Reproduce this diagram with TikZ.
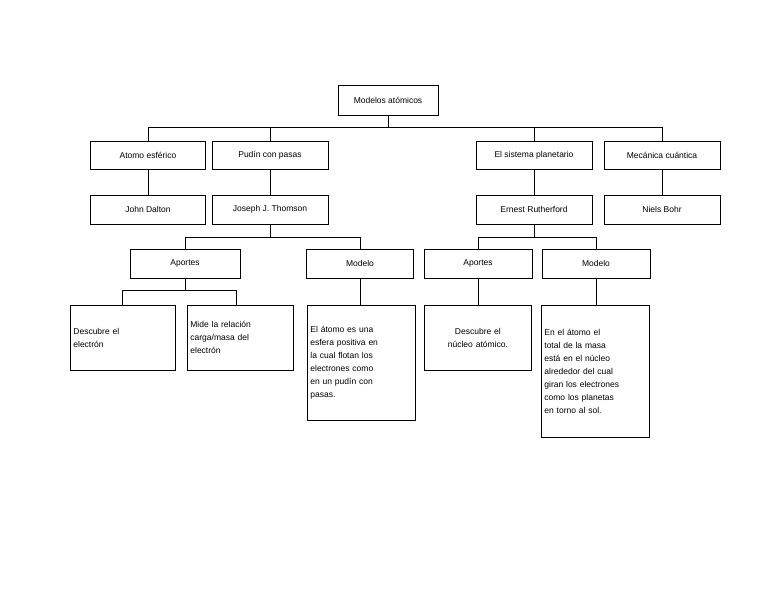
\documentclass[tikz,border=0pt]{standalone}
\usepackage{fontspec}
\setmainfont{Liberation Sans}
\usepackage{tikz}
\usetikzlibrary{positioning}
\tikzset{
  caja/.style={draw, line width=0.8pt, inner sep=2pt, font=\fontsize{8.5}{13}\selectfont},
  texto/.style={caja, anchor=north west, align=left, text width=#1, inner sep=3pt},
  linea/.style={line width=0.6pt}
}
\begin{document}
\begin{tikzpicture}[x=1pt,y=-1pt]
    \useasboundingbox (0,0) rectangle (768,594);
    % raiz
    \node [caja, minimum width=100, minimum height=30] (raiz) at (388,100) {Modelos atómicos};
    % segundo nivel
    \node [caja, minimum width=115, minimum height=28] (dalton) at (148,155) {Atomo esférico};
    \node [caja, minimum width=116, minimum height=28] (thomson) at (270,155) {Pudín con pasas};
    \node [caja, minimum width=116, minimum height=28] (ruther) at (534,155) {El sistema planetario};
    \node [caja, minimum width=116, minimum height=28] (bohr) at (662,155) {Mecánica cuántica};
    % tercer nivel
    \node [caja, minimum width=115, minimum height=29] (jd) at (148,209.5) {John Dalton};
    \node [caja, minimum width=116, minimum height=29] (jt) at (270,209.5) {Joseph J. Thomson};
    \node [caja, minimum width=116, minimum height=29] (er) at (534,209.5) {Ernest Rutherford};
    \node [caja, minimum width=116, minimum height=29] (nb) at (662,209.5) {Niels Bohr};
    % aportes y modelos
    \node [caja, minimum width=110, minimum height=29] (apT) at (185,263.5) {Aportes};
    \node [caja, minimum width=107, minimum height=29] (moT) at (360,263.5) {Modelo};
    \node [caja, minimum width=108, minimum height=29] (apR) at (478,263.5) {Aportes};
    \node [caja, minimum width=108, minimum height=29] (moR) at (596,263.5) {Modelo};
    % hojas
    \node [texto=99, minimum height=65] (desc) at (70,305) {Descubre el\\electrón};
    \node [texto=100, minimum height=65] (mide) at (187,305) {Mide la relación\\carga/masa del\\electrón};
    \node [texto=102, minimum height=115] (pudin) at (307,305) {El átomo es una\\esfera positiva en\\la cual flotan los\\electrones como\\en un pudín con\\pasas.};
    \node [caja, anchor=north west, align=center, text width=101, minimum height=65, inner sep=3pt] (nucleo) at (424,305) {\\[-6pt]Descubre el\\núcleo atómico.};
    \node [texto=102, minimum height=132] (masa) at (541,305) {En el átomo el\\total de la masa\\está en el núcleo\\alrededor del cual\\giran los electrones\\como los planetas\\en torno al sol.};
    % conectores
    \draw [linea] (raiz.south) -- ++(0,12) -| (dalton.north);
    \draw [linea] (raiz.south) ++(0,12) -| (thomson.north);
    \draw [linea] (raiz.south) ++(0,12) -| (ruther.north);
    \draw [linea] (raiz.south) ++(0,12) -| (bohr.north);
    \draw [linea] (dalton) -- (jd);
    \draw [linea] (thomson) -- (jt);
    \draw [linea] (ruther) -- (er);
    \draw [linea] (bohr) -- (nb);
    \draw [linea] (jt.south) -- ++(0,13) -| (apT.north);
    \draw [linea] (jt.south) ++(0,13) -| (moT.north);
    \draw [linea] (er.south) -- ++(0,13) -| (apR.north);
    \draw [linea] (er.south) ++(0,13) -| (moR.north);
    \draw [linea] (apT.south) -- ++(0,12) -| ([xshift=-1]desc.north);
    \draw [linea] (apT.south) ++(0,12) -| ([xshift=-4]mide.north);
    \draw [linea] (moT.south) -- (moT.south |- pudin.north);
    \draw [linea] (apR.south) -- (apR.south |- nucleo.north);
    \draw [linea] (moR.south) -- (moR.south |- masa.north);
\end{tikzpicture}
\end{document}
